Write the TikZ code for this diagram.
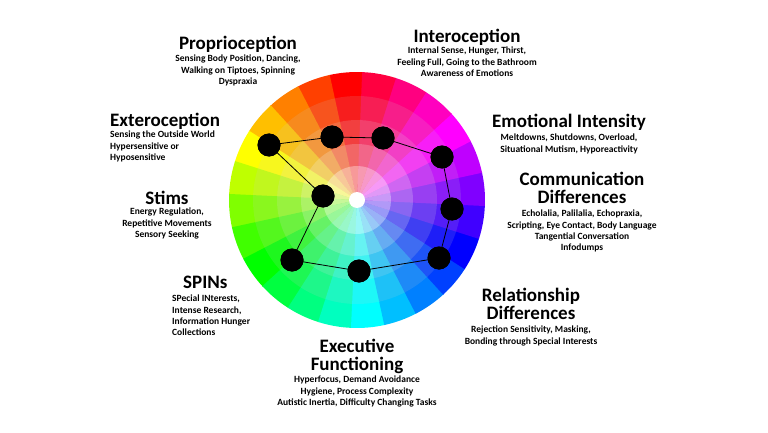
\documentclass[tikz,border=0pt]{standalone}
\usepackage{fontspec}
\setmainfont{Carlito}
\begin{document}
\begin{tikzpicture}[x=1pt,y=-1pt,
  ttl/.style={font=\bfseries\fontsize{19}{18}\selectfont,inner sep=0pt},
  sub/.style={font=\bfseries\fontsize{9.5}{11.2}\selectfont,inner sep=0pt},
  dot/.style={circle,fill=black,minimum size=23pt,inner sep=0pt},
  edge/.style={black,line width=0.8pt}]
\useasboundingbox[fill=white] (0,0) rectangle (768,433);
\coordinate (c) at (357,200);
\foreach \r/\s/\v in {128/1/1,104/0.88/0.97,80/0.74/0.95,56/0.58/0.95,34/0.38/0.97}{
 \foreach \j in {0,...,23}{
  \pgfmathsetmacro\h{\j*15}
  \pgfmathsetmacro\a{95+\h-7.7}
  \pgfmathsetmacro\b{95+\h+7.7}
  \definecolor{wc}{Hsb}{\h,\s,\v}
  \fill[wc] (c) -- ++(-\a:\r) arc[start angle=-\a,end angle=-\b,radius=\r] -- cycle;
 }}
\fill[white] (c) circle (8);
\node[dot] (d1) at (269,145) {};
\node[dot] (d2) at (332,137) {};
\node[dot] (d3) at (383,138) {};
\node[dot] (d4) at (442,157) {};
\node[dot] (d5) at (452,209) {};
\node[dot] (d6) at (439,258) {};
\node[dot] (d7) at (359,271) {};
\node[dot] (d8) at (292,260) {};
\node[dot] (d9) at (323,196) {};
\draw[edge] (d1.center)--(d2.center)--(d3.center)--(d4.center)--(d5.center)--(d6.center)--(d7.center)--(d8.center)--(d9.center)--cycle;
\foreach \i in {1,...,9}{\fill (d\i) circle (11.5);}
% labels
\node[ttl] (t1) at (238,44) {Proprioception};
\node[sub,align=center,anchor=north] (s1) at (238,55) {Sensing Body Position, Dancing,\\Walking on Tiptoes, Spinning\\Dyspraxia};
\node[ttl] (t2) at (467,37) {Interoception};
\node[sub,align=center,anchor=north] (s2) at (467,47) {Internal Sense, Hunger, Thirst,\\Feeling Full, Going to the Bathroom\\Awareness of Emotions};
\node[ttl,anchor=west] (t3) at (110,121) {Exteroception};
\node[sub,align=left,anchor=north west] (s3) at (110,131) {Sensing the Outside World\\Hypersensitive or\\Hyposensitive};
\node[ttl] (t4) at (167,198) {Stims};
\node[sub,align=center,anchor=north] (s4) at (167,208) {Energy Regulation,\\Repetitive Movements\\Sensory Seeking};
\node[ttl] (t5) at (569,122) {Emotional Intensity};
\node[sub,align=center,anchor=north] (s5) at (569,134) {Meltdowns, Shutdowns, Overload,\\Situational Mutism, Hyporeactivity};
\node[ttl,align=center,anchor=north] (t6) at (582,172) {Communication\\Differences};
\node[sub,align=center,anchor=north] (s6) at (582,210) {Echolalia, Palilalia, Echopraxia,\\Scripting, Eye Contact, Body Language\\Tangential Conversation\\Infodumps};
\node[ttl,anchor=west] (t7) at (183,282) {SPINs};
\node[sub,align=left,anchor=north west] (s7) at (172,295) {SPecial INterests,\\Intense Research,\\Information Hunger\\Collections};
\node[ttl,align=center,anchor=north] (t8) at (531,288) {Relationship\\Differences};
\node[sub,align=center,anchor=north] (s8) at (531,326) {Rejection Sensitivity, Masking,\\Bonding through Special Interests};
\node[ttl,align=center,anchor=north] (t9) at (357,339) {Executive\\Functioning};
\node[sub,align=center,anchor=north] (s9) at (357,376) {Hyperfocus, Demand Avoidance\\Hygiene, Process Complexity\\Autistic Inertia, Difficulty Changing Tasks};
\end{tikzpicture}
\end{document}
